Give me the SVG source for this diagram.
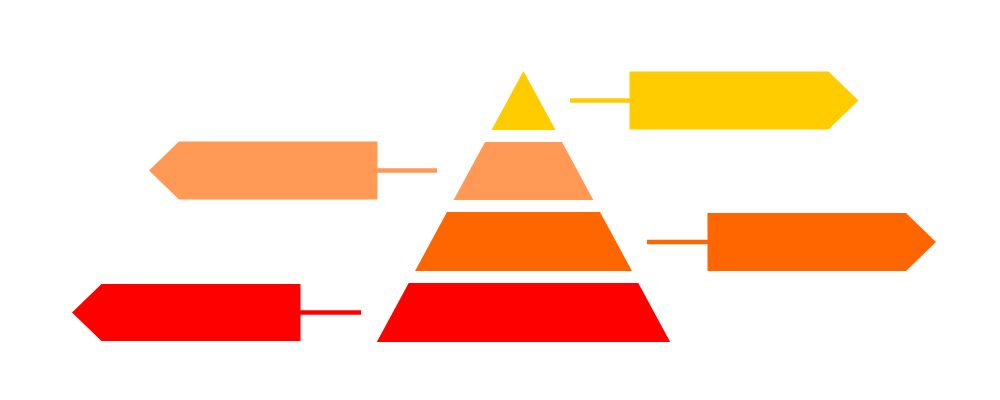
<svg xmlns="http://www.w3.org/2000/svg" width="1000" height="400" viewBox="0 0 1000 400">
  <style>
    .yellow { fill: #FFCC00; }
    .lorange { fill: #FF9955; }
    .orange { fill: #FF6600; }
    .red { fill: #FF0000; }
    .conn { stroke-width: 4.5; fill: none; }
  </style>
  <rect width="1000" height="400" fill="#FFFFFF"/>
  <g id="connectors">
    <line class="conn" x1="570" y1="100.5" x2="631" y2="100.5" stroke="#FFCC00"/>
    <line class="conn" x1="376" y1="170.5" x2="437" y2="170.5" stroke="#FF9955"/>
    <line class="conn" x1="647" y1="242" x2="709" y2="242" stroke="#FF6600"/>
    <line class="conn" x1="299" y1="312.5" x2="361" y2="312.5" stroke="#FF0000"/>
  </g>
  <g id="tier1"><polygon class="yellow" points="523.5,71 491.5,130 555.5,130"/></g>
  <g id="tier2"><polygon class="lorange" points="485,142 562,142 593.4,200 453.6,200"/></g>
  <g id="tier3"><polygon class="orange" points="447,212 600,212 632,271 415,271"/></g>
  <g id="tier4"><polygon class="red" points="408.7,283 638.3,283 670.2,342 376.8,342"/></g>
  <g id="label1"><polygon class="yellow" points="629.5,71.5 828.5,71.5 858.5,100.5 828.5,129.5 629.5,129.5"/></g>
  <g id="label2"><polygon class="lorange" points="377.5,141.5 179,141.5 149,170.5 179,199.5 377.5,199.5"/></g>
  <g id="label3"><polygon class="orange" points="707.5,213 906,213 936,242 906,271 707.5,271"/></g>
  <g id="label4"><polygon class="red" points="300.5,284 101.5,284 72,312.5 101.5,341 300.5,341"/></g>
</svg>
